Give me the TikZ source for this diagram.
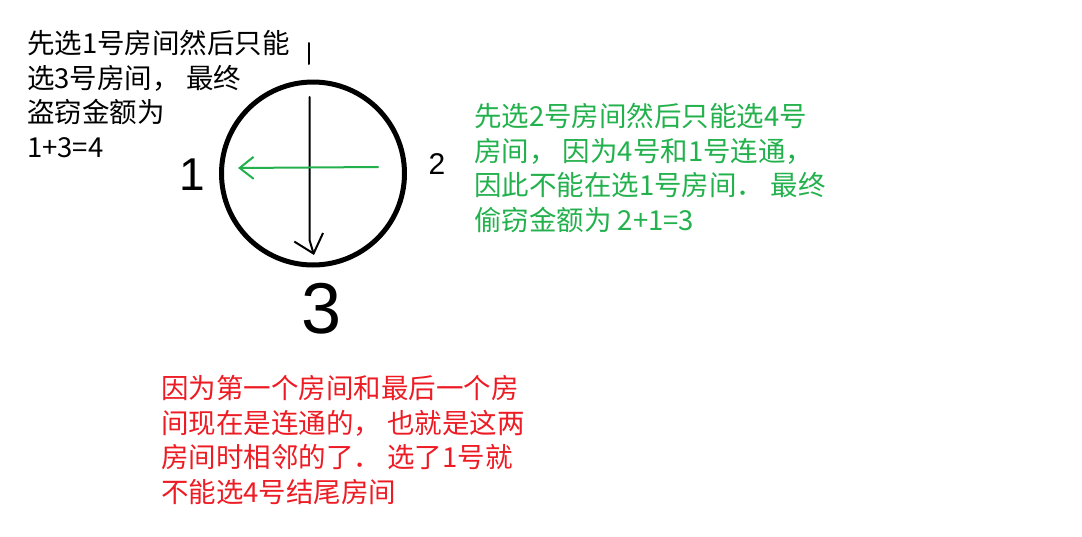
\documentclass[tikz,border=0pt]{standalone}
\usepackage{fontspec}
\setmainfont{Noto Sans CJK SC}
\IfFontExistsTF{FiraSans-Light.otf}
  {\newfontfamily\digitfont{FiraSans-Light.otf}}
  {\newfontfamily\digitfont{Liberation Sans}}
\usetikzlibrary{arrows.meta}
\definecolor{paintgreen}{RGB}{34,177,76}
\definecolor{paintred}{RGB}{237,28,36}
\tikzset{
  note/.style={anchor=north west,inner sep=0pt,align=left,font=\fontsize{27.5}{34.7}\selectfont},
  roomlabel/.style={inner sep=0pt,font=\digitfont},
  hand/.style={line width=2pt,line cap=round},
}
\begin{document}
\begin{tikzpicture}[x=1pt,y=1pt,yscale=-1,xscale=1]
\useasboundingbox (0,0) rectangle (1082,536);

%Shape: Circle [id:ring]
\node (ring) at (313,173.5) [circle,draw,line width=5pt,minimum size=183pt,inner sep=0pt] {};

%Straight Lines [id:stub]
\coordinate (stubtop) at (309,43);
\coordinate (stubbot) at (309,64);
\draw [hand] (stubtop) -- (stubbot) ;
%Straight Lines [id:down]
\coordinate (downstart) at (309.5,97);
\coordinate (downend) at (314,255);
\draw [hand,-{Straight Barb[length=17pt,width=30pt,line width=2pt]}] (downstart) -- (309.5,240) -- (downend) ;
%Straight Lines [id:left]
\coordinate (leftstart) at (378,167);
\coordinate (leftend) at (238,168);
\draw [hand,paintgreen,-{Straight Barb[length=14pt,width=22pt,line width=2pt]}] (leftstart) -- (leftend) ;

% Text Node
\node (one) at (192,175) [roomlabel,font=\digitfont\fontsize{46}{46}\selectfont] {1};
% Text Node
\node (two) at (437,164) [roomlabel,font=\digitfont\fontsize{30}{30}\selectfont] {2};
% Text Node
\node (three) at (322,309) [roomlabel,font=\digitfont\fontsize{72}{72}\selectfont] {3};

% Text Node
\node (plana) at (27,30) [note] {先选1号房间然后只能\\选3号房间， 最终\\盗窃金额为\\1+3=4};
% Text Node
\node (planb) at (474,103) [note,text=paintgreen] {先选2号房间然后只能选4号\\房间， 因为4号和1号连通，\\因此不能在选1号房间． 最终\\偷窃金额为 2+1=3};
% Text Node
\node (reason) at (161,375) [note,text=paintred] {因为第一个房间和最后一个房\\间现在是连通的， 也就是这两\\房间时相邻的了． 选了1号就\\不能选4号结尾房间};

\end{tikzpicture}
\end{document}
